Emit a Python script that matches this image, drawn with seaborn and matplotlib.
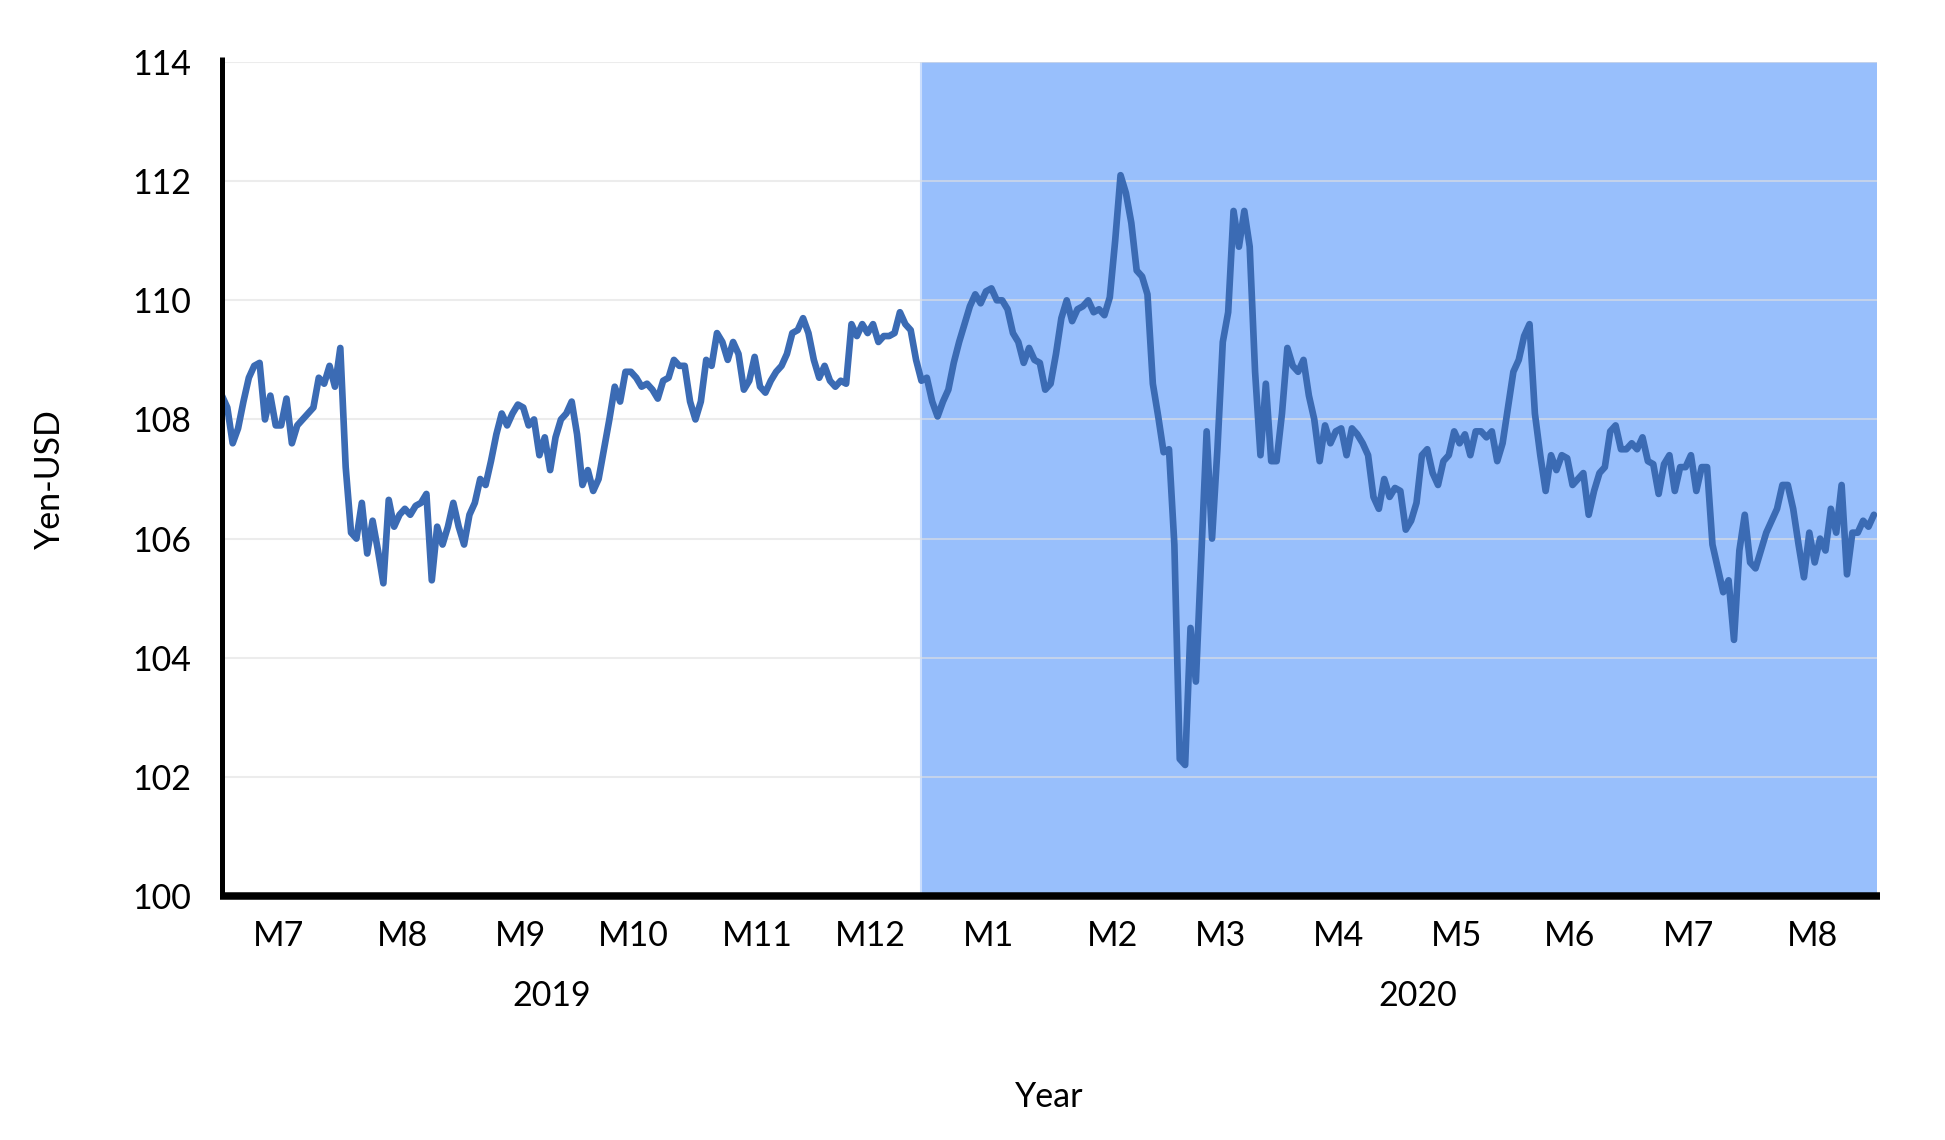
import numpy as np
import pandas as pd
import matplotlib.pyplot as plt
import seaborn as sns
from matplotlib.lines import Line2D

# Daily (weekday) Yen-USD rates
yen_2019 = [108.4, 108.2, 107.6, 107.85, 108.3, 108.7, 108.9, 108.95, 108.0, 108.4,
            107.9, 107.9, 108.35, 107.6, 107.9, 108.0, 108.1, 108.2, 108.7, 108.6,
            108.9, 108.55, 109.2, 107.2, 106.1, 106.0, 106.6, 105.75, 106.3, 105.8,
            105.25, 106.65, 106.2, 106.4, 106.5, 106.4, 106.55, 106.6, 106.75, 105.3,
            106.2, 105.9, 106.2, 106.6, 106.2,
            105.9, 106.4, 106.6, 107.0, 106.9, 107.3, 107.75, 108.1, 107.9, 108.1,
            108.25, 108.2, 107.9, 108.0, 107.4, 107.7, 107.15, 107.7, 108.0, 108.1,
            108.3, 107.75, 106.9, 107.15, 106.8, 107.0, 107.5, 108.0, 108.55, 108.3,
            108.8, 108.8, 108.7, 108.55, 108.6, 108.5, 108.35, 108.65, 108.7, 109.0,
            108.9, 108.9, 108.3, 108.0, 108.3, 109.0,
            108.9, 109.45, 109.3, 109.0, 109.3, 109.1, 108.5, 108.65, 109.05, 108.55,
            108.45, 108.65, 108.8, 108.9, 109.1, 109.45, 109.5, 109.7, 109.45, 109.0,
            108.7, 108.9, 108.65, 108.55, 108.65, 108.6, 109.6, 109.4, 109.6, 109.45,
            109.6, 109.3, 109.4, 109.4, 109.45, 109.8, 109.6, 109.5, 109.0, 108.65,
            108.7]

yen_2020 = [108.3, 108.05, 108.3, 108.5, 108.95, 109.3, 109.6, 109.9, 110.1, 109.95,
            110.15, 110.2, 110.0, 110.0, 109.85, 109.45, 109.3, 108.95, 109.2, 109.0,
            108.95, 108.5, 108.6, 109.1, 109.7, 110.0, 109.65, 109.85, 109.9, 110.0,
            109.8, 109.85, 109.75, 110.05, 111.0, 112.1, 111.8, 111.3, 110.5, 110.4,
            110.1, 108.6, 108.05, 107.45,
            107.5, 105.9, 102.3, 102.2, 104.5, 103.6, 105.7, 107.8, 106.0, 107.5,
            109.3, 109.8, 111.5, 110.9, 111.5, 110.9, 108.8, 107.4, 108.6, 107.3,
            107.3, 108.1, 109.2, 108.9, 108.8, 109.0, 108.4, 108.0, 107.3, 107.9,
            107.6, 107.8, 107.85, 107.4, 107.85, 107.75, 107.6, 107.4, 106.7, 106.5,
            107.0, 106.7, 106.85, 106.8, 106.15,
            106.3, 106.6, 107.4, 107.5, 107.1, 106.9, 107.3, 107.4, 107.8, 107.6,
            107.75, 107.4, 107.8, 107.8, 107.7, 107.8, 107.3, 107.6, 108.2, 108.8,
            109.0, 109.4, 109.6, 108.1, 107.4, 106.8, 107.4, 107.15, 107.4, 107.35,
            106.9, 107.0, 107.1, 106.4, 106.8, 107.1, 107.2, 107.8, 107.9, 107.5,
            107.5, 107.6, 107.5, 107.7, 107.3,
            107.25, 106.75, 107.25, 107.4, 106.8, 107.2, 107.2, 107.4, 106.8, 107.2,
            107.2, 105.9, 105.5, 105.1, 105.3, 104.3, 105.8, 106.4, 105.6, 105.5,
            105.8, 106.1, 106.3, 106.5, 106.9, 106.9, 106.5, 105.9, 105.35, 106.1,
            105.6, 106.0, 105.8, 106.5, 106.1, 106.9, 105.4, 106.1, 106.1, 106.3,
            106.2, 106.4]

start_date = '2019-07-01'
shade_from = '2019-12-30'
y_ticks = [100, 102, 104, 106, 108, 110, 112, 114]
year_names = ['2019', '2020']
year_label_pos = [61.3, 222.3]

dates = pd.bdate_range(start_date, periods=len(yen_2019) + len(yen_2020))
df = pd.DataFrame({'date': dates, 'yen': yen_2019 + yen_2020})
df['pos'] = np.arange(len(df))

sns.set_theme(style='white')
plt.rcParams['font.family'] = ['Lato', 'DejaVu Sans']

fig = plt.figure(figsize=(19.45, 11.4), dpi=100)
ax_box = [0.1141, 0.214, 0.851, 0.7316]
ax = fig.add_axes(ax_box)

x_max = df['pos'].max() + 0.6
shade_start = df.loc[df['date'] >= shade_from, 'pos'].min()
ax.axvspan(shade_start, x_max, color='#98BFFC', zorder=0.2, lw=0)
ax.axvline(shade_start, color='#C9DDFD', lw=1.5, zorder=0.3)

sns.lineplot(data=df, x='pos', y='yen', color='#3B6BB4', linewidth=4.8, ax=ax, zorder=3)

ax.set_xlim(0, x_max)
ax.set_ylim(100, 114)
ax.set_yticks(y_ticks)
ax.set_yticklabels([str(t) for t in y_ticks], fontsize=24.5)
ax.yaxis.grid(True, color='#E0E0E0', alpha=0.6, lw=1.5)
ax.set_axisbelow(True)

# month labels
month_start = df.groupby(df['date'].dt.to_period('M'))['pos'].min()
tick_pos = month_start.values + 10.5
keep = tick_pos < x_max
ax.set_xticks(tick_pos[keep])
ax.set_xticklabels(['M%d' % p.month for p in month_start.index[keep]], fontsize=24.5)
ax.tick_params(axis='both', length=0, colors='black')
ax.tick_params(axis='y', pad=22)
ax.tick_params(axis='x', pad=17)

# year labels
for name, xp in zip(year_names, year_label_pos):
    ax.text(xp, -0.1198, name, transform=ax.get_xaxis_transform(),
            ha='center', va='center', fontsize=24.5, color='black')

ax.set_xlabel('Year', fontsize=24.5, va='center', color='black')
ax.xaxis.set_label_coords(0.5, -0.241)
ax.set_ylabel('Yen-USD', fontsize=24.5, va='center', color='black')
ax.yaxis.set_label_coords(-0.104, 0.5)

for s in ax.spines.values():
    s.set_visible(False)

# axis lines drawn by hand so they can run slightly past the plot area
left, bottom, width, height = ax_box
fig.add_artist(Line2D([left, left], [bottom, bottom + height + 0.004], color='black', lw=3.6,
                      transform=fig.transFigure, solid_capstyle='butt'))
fig.add_artist(Line2D([left - 0.001, left + width + 0.0015], [bottom, bottom], color='black', lw=5.4,
                      transform=fig.transFigure, solid_capstyle='butt'))

fig.savefig('out.png', dpi=100)
